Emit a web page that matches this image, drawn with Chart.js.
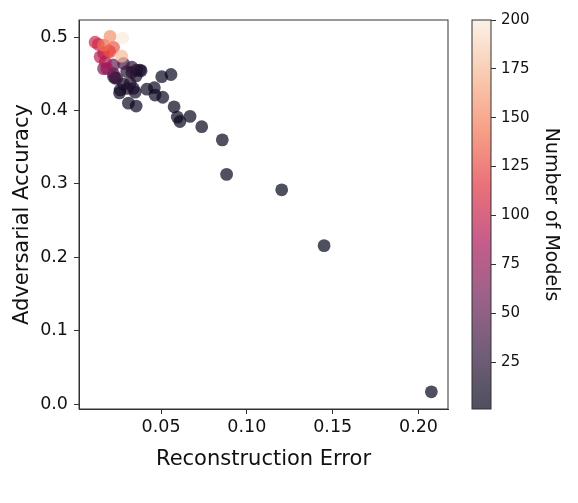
<!DOCTYPE html>
<html>
<head>
<meta charset="utf-8">
<script src="https://cdn.jsdelivr.net/npm/chart.js@4.4.1/dist/chart.umd.min.js"></script>
<style>
html, body { margin: 0; padding: 0; background: #fff; }
#wrap { position: relative; width: 578px; height: 503px; }
#wrap canvas { position: absolute; left: 0; top: 0; }
</style>
</head>
<body>
<div id="wrap">
    <canvas id="main" width="578" height="503"></canvas>
    <canvas id="cbar" width="578" height="503"></canvas>
</div>
<script>
// values
const recErr = [
    0.2075, 0.1450, 0.1203, 0.0882, 0.0857, 0.0737, 0.0669, 0.0610, 0.0595, 0.0576,
    0.0558, 0.0504, 0.0510, 0.0465, 0.0461, 0.0417, 0.0355, 0.0310, 0.0349, 0.0384,
    0.0330, 0.0258, 0.0304, 0.0281, 0.0233, 0.0320, 0.0339, 0.0300, 0.0378, 0.0330,
    0.0262, 0.0242, 0.0223, 0.0355, 0.0223, 0.0358,
    0.0281, 0.0223, 0.0184, 0.0165, 0.0175, 0.0145, 0.0165, 0.0116, 0.0135, 0.0194,
    0.0203, 0.0223, 0.0165, 0.0203, 0.0271, 0.0277
];
const advAcc = [
    0.017, 0.216, 0.292, 0.313, 0.360, 0.378, 0.392, 0.385, 0.391, 0.405,
    0.449, 0.446, 0.418, 0.421, 0.431, 0.429, 0.406, 0.410, 0.425, 0.454,
    0.452, 0.424, 0.430, 0.436, 0.444, 0.437, 0.430, 0.453, 0.455, 0.459,
    0.428, 0.444, 0.446, 0.447, 0.450, 0.455,
    0.464, 0.462, 0.457, 0.457, 0.466, 0.473, 0.478, 0.493, 0.490, 0.481,
    0.480, 0.486, 0.489, 0.501, 0.474, 0.499
];
const numModels = [
    1, 1, 1, 2, 2, 2, 3, 3, 4, 3,
    4, 5, 5, 6, 5, 8, 6, 7, 10, 12,
    15, 9, 12, 14, 20, 18, 11, 22, 16, 25,
    10, 28, 30, 13, 40, 14,
    35, 55, 72, 65, 85, 95, 90, 105, 100, 115,
    125, 130, 140, 155, 175, 200
];

const xTicks  = [0.05, 0.10, 0.15, 0.20];
const yTicks  = [0.0, 0.1, 0.2, 0.3, 0.4, 0.5];
const cbTicks = [25, 50, 75, 100, 125, 150, 175, 200];
const cbMin = 1, cbMax = 200;

// seaborn "rocket", 8 evenly spaced stops
const ROCKET = ['#03051a', '#35193e', '#701f57', '#ad1759', '#e13342', '#f37651', '#f6b48f', '#faebdd'];
const ALPHA = 0.7;
const FONT = 'DejaVu Sans';
const INK = '#111';
const SPINE = '#333';

const hexRgb = h => [1, 3, 5].map(i => parseInt(h.slice(i, i + 2), 16));

function rocket(t) {
    t = Math.min(1, Math.max(0, t));
    const p = t * (ROCKET.length - 1);
    const i = Math.min(ROCKET.length - 2, Math.floor(p));
    const f = p - i;
    const a = hexRgb(ROCKET[i]), b = hexRgb(ROCKET[i + 1]);
    const c = a.map((v, k) => Math.round(v + (b[k] - v) * f));
    return `rgba(${c[0]},${c[1]},${c[2]},${ALPHA})`;
}

// draw low counts first so the bright ones sit on top
const order = numModels.map((_, i) => i).sort((a, b) => numModels[a] - numModels[b]);
const points = order.map(i => ({ x: recErr[i], y: advAcc[i] }));
const colors = order.map(i => rocket((numModels[i] - cbMin) / (cbMax - cbMin)));

const frame = {
    id: 'frame',
    afterDraw(c) {
        const a = c.chartArea, ctx = c.ctx;
        ctx.save();
        ctx.strokeStyle = SPINE;
        ctx.lineWidth = 1;
        ctx.strokeRect(a.left, a.top, a.right - a.left, a.bottom - a.top);
        ctx.restore();
    }
};

new Chart(document.getElementById('main'), {
    type: 'scatter',
    data: {
        datasets: [{
            data: points,
            backgroundColor: colors,
            borderWidth: 0,
            pointRadius: 6.4,
            pointHoverRadius: 6.4
        }]
    },
    options: {
        responsive: false,
        animation: false,
        events: [],
        layout: { padding: { left: 0, top: 20, right: 130, bottom: 0 } },
        plugins: { legend: { display: false }, tooltip: { enabled: false } },
        scales: {
            x: {
                type: 'linear',
                min: 0.0022, max: 0.2172,
                afterBuildTicks: s => { s.ticks = xTicks.map(v => ({ value: v })); },
                afterFit: s => { s.height = 94; },
                ticks: { color: INK, font: { family: FONT, size: 17.5 }, padding: 3, maxRotation: 0, autoSkip: false,
                         callback: v => v.toFixed(2) },
                grid: { drawOnChartArea: false, tickLength: 5, tickColor: SPINE },
                border: { display: true, color: SPINE },
                title: { display: true, text: 'Reconstruction Error', color: INK,
                         font: { family: FONT, size: 21 }, padding: { top: 0, bottom: 31 } }
            },
            y: {
                type: 'linear',
                min: -0.0064, max: 0.5232,
                afterBuildTicks: s => { s.ticks = yTicks.map(v => ({ value: v })); },
                afterFit: s => { s.width = 79; },
                ticks: { color: INK, font: { family: FONT, size: 17.5 }, padding: 6, autoSkip: false,
                         callback: v => v.toFixed(1) },
                grid: { drawOnChartArea: false, tickLength: 5, tickColor: SPINE },
                border: { display: true, color: SPINE },
                title: { display: true, text: 'Adversarial Accuracy', color: INK,
                         font: { family: FONT, size: 21 }, padding: { top: 10, bottom: 0 } }
            }
        }
    },
    plugins: [frame]
});

const colorBar = {
    id: 'colorBar',
    beforeDraw(c) {
        const a = c.chartArea, ctx = c.ctx;
        const g = ctx.createLinearGradient(0, a.bottom, 0, a.top);
        ROCKET.forEach((_, k) => g.addColorStop(k / (ROCKET.length - 1), rocket(k / (ROCKET.length - 1))));
        ctx.save();
        ctx.fillStyle = g;
        ctx.fillRect(a.left, a.top, a.right - a.left, a.bottom - a.top);
        ctx.restore();
    }
};

new Chart(document.getElementById('cbar'), {
    type: 'scatter',
    data: { datasets: [] },
    options: {
        responsive: false,
        animation: false,
        events: [],
        layout: { padding: { left: 472, top: 20, right: 0, bottom: 94 } },
        plugins: { legend: { display: false }, tooltip: { enabled: false } },
        scales: {
            x: { display: false, min: 0, max: 1 },
            y: {
                position: 'right',
                min: cbMin, max: cbMax,
                afterBuildTicks: s => { s.ticks = cbTicks.map(v => ({ value: v })); },
                afterFit: s => { s.width = 87; },
                ticks: { color: INK, font: { family: FONT, size: 15 }, padding: 5, autoSkip: false },
                grid: { drawOnChartArea: false, tickLength: 5, tickColor: SPINE },
                border: { display: false },
                title: { display: true, text: 'Number of Models', color: INK,
                         font: { family: FONT, size: 19 }, padding: { top: 16, bottom: 0 } }
            }
        }
    },
    plugins: [colorBar, frame]
});
</script>
</body>
</html>
